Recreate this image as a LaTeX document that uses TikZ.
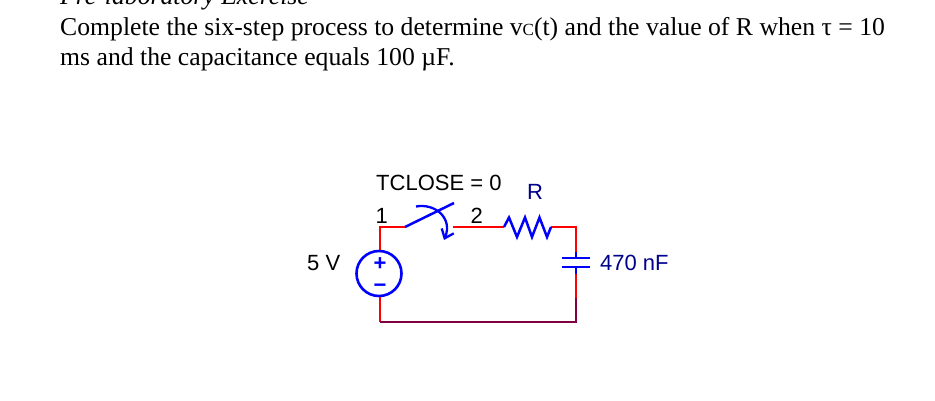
\documentclass[tikz,border=0pt]{standalone}
\usepackage{fontspec}
\setmainfont{Liberation Serif}
\setsansfont{Liberation Sans}
\usetikzlibrary{arrows.meta}
\definecolor{wirered}{RGB}{255,0,0}
\definecolor{partblue}{RGB}{0,0,255}
\definecolor{gndpurple}{RGB}{128,0,64}
\definecolor{valnavy}{RGB}{0,0,139}
\tikzset{
    wire/.style = {wirered, line width=2.4pt},
    gndwire/.style = {gndpurple, line width=2.4pt},
    part/.style = {partblue, line width=2.5pt},
    para/.style = {anchor=base west, inner sep=0pt, font=\rmfamily\fontsize{25.7}{30}\selectfont},
    lbl/.style = {anchor=base west, inner sep=0pt, font=\sffamily\fontsize{22}{26}\selectfont},
    val/.style = {lbl, text=valnavy},
    sign/.style = {inner sep=0pt, text=partblue, font=\sffamily\bfseries\fontsize{22}{22}\selectfont}
}
\begin{document}
\begin{tikzpicture}[x=1pt, y=-1pt]
    \useasboundingbox (0,0) rectangle (935,401);
    \node[para] (head) at (60,5) {\itshape Pre-laboratory Exercise};
    \node[para] (line1) at (60,36) {Complete the six-step process to determine v{\fontsize{17}{17}\selectfont C}(t) and the value of R when τ = 10};
    \node[para] (line2) at (60,66) {ms and the capacitance equals 100 µF.};
    % corners and terminals
    \coordinate (tl) at (380,227);
    \coordinate (swa) at (405,227);
    \coordinate (swtip) at (454,203);
    \coordinate (swb) at (453,227);
    \coordinate (ra) at (504,227);
    \coordinate (rb) at (551,227);
    \coordinate (tr) at (576,227);
    \coordinate (captop) at (576,252);
    \coordinate (platea) at (576,258);
    \coordinate (plateb) at (576,267);
    \coordinate (capbot) at (576,274);
    \coordinate (brk) at (576,298);
    \coordinate (br) at (576,322);
    \coordinate (bl) at (380,322);
    \node[circle, draw=partblue, line width=2.6pt, minimum size=45pt, inner sep=0pt] (vsrc) at (379,273.5) {};
    % wires
    \draw[wire] (vsrc.north -| tl) -- (tl) -- (swa);
    \draw[wire] (swb) -- (ra);
    \draw[wire] (rb) -- (tr) -- (captop);
    \draw[wire] (capbot) -- (brk);
    \draw[wire] (vsrc.south -| bl) -- (bl);
    \draw[gndwire] (brk) -- (br) -- (bl);
    % switch
    \draw[part] (swa) -- (swtip);
    \draw[part, line width=2.3pt, -{Straight Barb[length=8pt, width=13pt]}] (416,206.5) .. controls (435,203) and (453,218) .. (444,240);
    % resistor
    \draw[part] (ra) -- (509,217.5) -- (517,237) -- (525,217.5) -- (532,237) -- (539.5,217.5) -- (547,237) -- (rb);
    % capacitor
    \draw[part] (captop) -- (platea);
    \draw[part] (plateb) -- (capbot);
    \draw[part] ([xshift=-14pt]platea) -- ([xshift=14pt]platea);
    \draw[part] ([xshift=-14pt]plateb) -- ([xshift=14pt]plateb);
    % labels
    \node[sign] (plus) at (380,264) {+};
    \node[sign] (minus) at (380,288) {−};
    \node[lbl] (tclose) at (376,190.5) {TCLOSE = 0};
    \node[lbl] (n1) at (375.5,223) {1};
    \node[lbl] (n2) at (470.5,223) {2};
    \node[val] (rname) at (527,200) {R};
    \node[val] (capval) at (600,270.5) {470 nF};
    \node[lbl] (srcval) at (307,270.5) {5 V};
\end{tikzpicture}
\end{document}
